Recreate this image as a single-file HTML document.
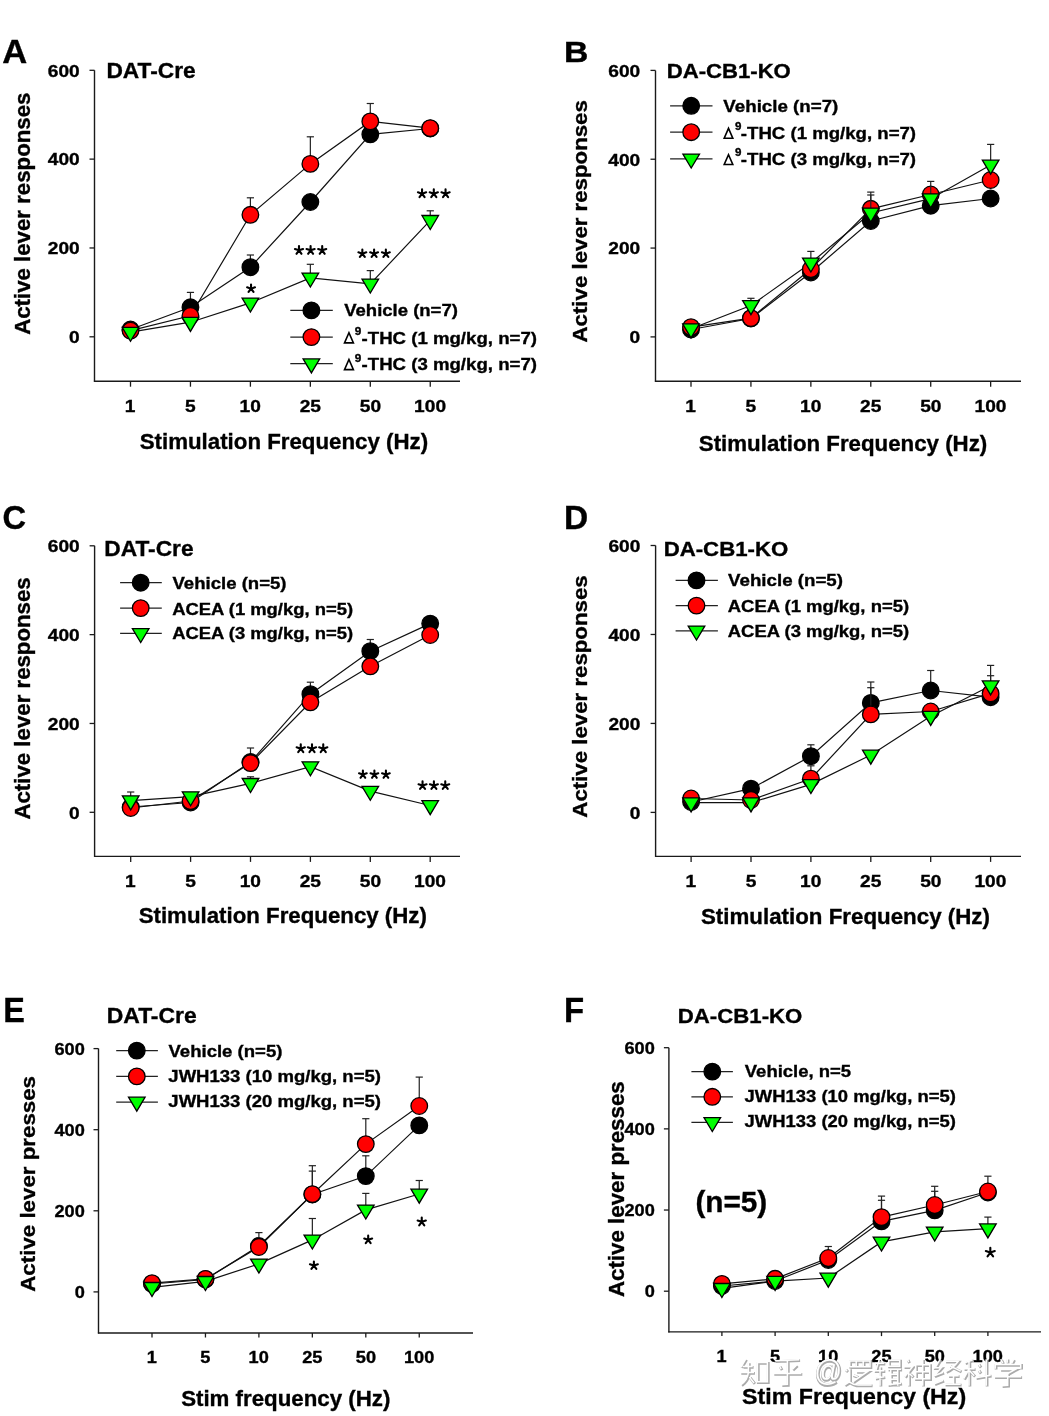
<!DOCTYPE html>
<html><head><meta charset="utf-8"><style>
html,body{margin:0;padding:0;background:#fff;width:1049px;height:1416px;overflow:hidden}
svg{will-change:transform}
text{font-family:"Liberation Sans",sans-serif;stroke:#000;stroke-width:0.35px}
</style></head><body>
<svg width="1049" height="1416" viewBox="0 0 1049 1416" style="display:block" font-family="Liberation Sans, sans-serif">
<rect width="1049" height="1416" fill="#fff"/>
<line x1="94.50" y1="70.30" x2="94.50" y2="381.80" stroke="#1a1a1a" stroke-width="1.4"/>
<line x1="93.90" y1="381.20" x2="460.00" y2="381.20" stroke="#1a1a1a" stroke-width="1.4"/>
<line x1="89.50" y1="336.80" x2="94.50" y2="336.80" stroke="#1a1a1a" stroke-width="1.3"/>
<text transform="translate(69.04,343.10) scale(1.1000,1)" font-size="17.40" font-weight="bold" fill="#000">0</text>
<line x1="89.50" y1="247.97" x2="94.50" y2="247.97" stroke="#1a1a1a" stroke-width="1.3"/>
<text transform="translate(47.80,254.27) scale(1.1000,1)" font-size="17.40" font-weight="bold" fill="#000">200</text>
<line x1="89.50" y1="159.13" x2="94.50" y2="159.13" stroke="#1a1a1a" stroke-width="1.3"/>
<text transform="translate(47.80,165.43) scale(1.1000,1)" font-size="17.40" font-weight="bold" fill="#000">400</text>
<line x1="89.50" y1="70.30" x2="94.50" y2="70.30" stroke="#1a1a1a" stroke-width="1.3"/>
<text transform="translate(47.80,76.60) scale(1.1000,1)" font-size="17.40" font-weight="bold" fill="#000">600</text>
<line x1="130.50" y1="381.20" x2="130.50" y2="386.70" stroke="#1a1a1a" stroke-width="1.3"/>
<text transform="translate(124.85,412.30) scale(1.1000,1)" font-size="17.40" font-weight="bold" fill="#000">1</text>
<line x1="190.45" y1="381.20" x2="190.45" y2="386.70" stroke="#1a1a1a" stroke-width="1.3"/>
<text transform="translate(185.09,412.30) scale(1.1000,1)" font-size="17.40" font-weight="bold" fill="#000">5</text>
<line x1="250.40" y1="381.20" x2="250.40" y2="386.70" stroke="#1a1a1a" stroke-width="1.3"/>
<text transform="translate(239.59,412.30) scale(1.1000,1)" font-size="17.40" font-weight="bold" fill="#000">10</text>
<line x1="310.35" y1="381.20" x2="310.35" y2="386.70" stroke="#1a1a1a" stroke-width="1.3"/>
<text transform="translate(299.63,412.30) scale(1.1000,1)" font-size="17.40" font-weight="bold" fill="#000">25</text>
<line x1="370.30" y1="381.20" x2="370.30" y2="386.70" stroke="#1a1a1a" stroke-width="1.3"/>
<text transform="translate(359.77,412.30) scale(1.1000,1)" font-size="17.40" font-weight="bold" fill="#000">50</text>
<line x1="430.25" y1="381.20" x2="430.25" y2="386.70" stroke="#1a1a1a" stroke-width="1.3"/>
<text transform="translate(414.12,412.30) scale(1.1000,1)" font-size="17.40" font-weight="bold" fill="#000">100</text>
<text transform="translate(2.23,62.80) scale(1.0184,1)" font-size="34.00" font-weight="bold" fill="#000">A</text>
<text transform="translate(106.42,77.80) scale(1.0020,1)" font-size="22.70" font-weight="bold" fill="#000">DAT-Cre</text>
<text transform="translate(29.50,334.86) rotate(-90) scale(1.0208,1)" font-size="21.80" font-weight="bold" fill="#000">Active lever responses</text>
<text transform="translate(139.73,448.70) scale(0.9952,1)" font-size="22.40" font-weight="bold" fill="#000">Stimulation Frequency (Hz)</text>
<line x1="290.30" y1="310.40" x2="332.80" y2="310.40" stroke="#222" stroke-width="1.25"/>
<circle cx="311.40" cy="310.40" r="8.3" fill="#000000" stroke="#000" stroke-width="1.3"/>
<text transform="translate(344.21,316.10) scale(1.0895,1)" font-size="17.00" font-weight="bold" fill="#000">Vehicle (n=7)</text>
<line x1="290.30" y1="337.10" x2="332.80" y2="337.10" stroke="#222" stroke-width="1.25"/>
<circle cx="311.40" cy="337.10" r="8.3" fill="#ff0000" stroke="#000" stroke-width="1.3"/>
<polygon points="344.50,342.90 353.40,342.90 348.95,332.77" fill="none" stroke="#000" stroke-width="1.6" stroke-linejoin="miter"/>
<text transform="translate(354.79,334.80) scale(1.1410,1)" font-size="10.30" font-weight="bold" fill="#000">9</text>
<text transform="translate(361.55,343.70) scale(1.0958,1)" font-size="17.00" font-weight="bold" fill="#000">-THC (1 mg/kg, n=7)</text>
<line x1="290.30" y1="363.70" x2="332.80" y2="363.70" stroke="#222" stroke-width="1.25"/>
<polygon points="303.10,358.90 319.70,358.90 311.40,372.90" fill="#00ff00" stroke="#000" stroke-width="1.3" stroke-linejoin="miter"/>
<polygon points="344.50,369.60 353.40,369.60 348.95,359.47" fill="none" stroke="#000" stroke-width="1.6" stroke-linejoin="miter"/>
<text transform="translate(354.79,361.50) scale(1.1410,1)" font-size="10.30" font-weight="bold" fill="#000">9</text>
<text transform="translate(361.55,370.40) scale(1.0958,1)" font-size="17.00" font-weight="bold" fill="#000">-THC (3 mg/kg, n=7)</text>
<polyline fill="none" stroke="#111" stroke-width="1.2" points="130.50,329.50 190.45,307.30 250.40,267.20 310.35,202.00 370.30,134.30 430.25,128.50"/>
<polyline fill="none" stroke="#111" stroke-width="1.2" points="130.50,330.60 190.45,315.80 250.40,214.80 310.35,163.90 370.30,121.40 430.25,128.20"/>
<polyline fill="none" stroke="#111" stroke-width="1.2" points="130.50,332.10 190.45,322.20 250.40,302.90 310.35,277.90 370.30,283.90 430.25,220.30"/>
<line x1="190.45" y1="307.30" x2="190.45" y2="292.40" stroke="#222" stroke-width="1.2"/>
<line x1="186.85" y1="292.40" x2="194.05" y2="292.40" stroke="#222" stroke-width="1.2"/>
<line x1="250.40" y1="267.20" x2="250.40" y2="255.00" stroke="#222" stroke-width="1.2"/>
<line x1="246.80" y1="255.00" x2="254.00" y2="255.00" stroke="#222" stroke-width="1.2"/>
<circle cx="130.50" cy="329.50" r="8.3" fill="#000000" stroke="#000" stroke-width="1.3"/>
<circle cx="190.45" cy="307.30" r="8.3" fill="#000000" stroke="#000" stroke-width="1.3"/>
<circle cx="250.40" cy="267.20" r="8.3" fill="#000000" stroke="#000" stroke-width="1.3"/>
<circle cx="310.35" cy="202.00" r="8.3" fill="#000000" stroke="#000" stroke-width="1.3"/>
<circle cx="370.30" cy="134.30" r="8.3" fill="#000000" stroke="#000" stroke-width="1.3"/>
<circle cx="430.25" cy="128.50" r="8.3" fill="#000000" stroke="#000" stroke-width="1.3"/>
<line x1="250.40" y1="214.80" x2="250.40" y2="197.80" stroke="#222" stroke-width="1.2"/>
<line x1="246.80" y1="197.80" x2="254.00" y2="197.80" stroke="#222" stroke-width="1.2"/>
<line x1="310.35" y1="163.90" x2="310.35" y2="136.80" stroke="#222" stroke-width="1.2"/>
<line x1="306.75" y1="136.80" x2="313.95" y2="136.80" stroke="#222" stroke-width="1.2"/>
<line x1="370.30" y1="121.40" x2="370.30" y2="103.50" stroke="#222" stroke-width="1.2"/>
<line x1="366.70" y1="103.50" x2="373.90" y2="103.50" stroke="#222" stroke-width="1.2"/>
<circle cx="130.50" cy="330.60" r="8.3" fill="#ff0000" stroke="#000" stroke-width="1.3"/>
<circle cx="190.45" cy="315.80" r="8.3" fill="#ff0000" stroke="#000" stroke-width="1.3"/>
<circle cx="250.40" cy="214.80" r="8.3" fill="#ff0000" stroke="#000" stroke-width="1.3"/>
<circle cx="310.35" cy="163.90" r="8.3" fill="#ff0000" stroke="#000" stroke-width="1.3"/>
<circle cx="370.30" cy="121.40" r="8.3" fill="#ff0000" stroke="#000" stroke-width="1.3"/>
<circle cx="430.25" cy="128.20" r="8.3" fill="#ff0000" stroke="#000" stroke-width="1.3"/>
<line x1="310.35" y1="277.90" x2="310.35" y2="264.30" stroke="#222" stroke-width="1.2"/>
<line x1="306.75" y1="264.30" x2="313.95" y2="264.30" stroke="#222" stroke-width="1.2"/>
<line x1="370.30" y1="283.90" x2="370.30" y2="270.60" stroke="#222" stroke-width="1.2"/>
<line x1="366.70" y1="270.60" x2="373.90" y2="270.60" stroke="#222" stroke-width="1.2"/>
<line x1="430.25" y1="220.30" x2="430.25" y2="210.80" stroke="#222" stroke-width="1.2"/>
<line x1="426.65" y1="210.80" x2="433.85" y2="210.80" stroke="#222" stroke-width="1.2"/>
<polygon points="122.20,327.30 138.80,327.30 130.50,341.30" fill="#00ff00" stroke="#000" stroke-width="1.3" stroke-linejoin="miter"/>
<polygon points="182.15,317.40 198.75,317.40 190.45,331.40" fill="#00ff00" stroke="#000" stroke-width="1.3" stroke-linejoin="miter"/>
<polygon points="242.10,298.10 258.70,298.10 250.40,312.10" fill="#00ff00" stroke="#000" stroke-width="1.3" stroke-linejoin="miter"/>
<polygon points="302.05,273.10 318.65,273.10 310.35,287.10" fill="#00ff00" stroke="#000" stroke-width="1.3" stroke-linejoin="miter"/>
<polygon points="362.00,279.10 378.60,279.10 370.30,293.10" fill="#00ff00" stroke="#000" stroke-width="1.3" stroke-linejoin="miter"/>
<polygon points="421.95,215.50 438.55,215.50 430.25,229.50" fill="#00ff00" stroke="#000" stroke-width="1.3" stroke-linejoin="miter"/>
<path d="M251.04,288.64 L251.04,284.53 M251.04,288.64 L254.95,287.37 M251.04,288.64 L247.13,287.37 M251.04,288.64 L248.62,291.97 M251.04,288.64 L253.46,291.97 " stroke="#000" stroke-width="2.1" stroke-linecap="round" fill="none"/>
<path d="M299.00,250.31 L299.00,246.03 M299.00,250.31 L303.07,248.99 M299.00,250.31 L294.93,248.99 M299.00,250.31 L296.48,253.77 M299.00,250.31 L301.51,253.77 " stroke="#000" stroke-width="2.1" stroke-linecap="round" fill="none"/>
<path d="M310.60,250.31 L310.60,246.03 M310.60,250.31 L314.67,248.99 M310.60,250.31 L306.53,248.99 M310.60,250.31 L308.09,253.77 M310.60,250.31 L313.11,253.77 " stroke="#000" stroke-width="2.1" stroke-linecap="round" fill="none"/>
<path d="M322.20,250.31 L322.20,246.03 M322.20,250.31 L326.27,248.99 M322.20,250.31 L318.13,248.99 M322.20,250.31 L319.69,253.77 M322.20,250.31 L324.72,253.77 " stroke="#000" stroke-width="2.1" stroke-linecap="round" fill="none"/>
<path d="M362.34,253.64 L362.34,249.53 M362.34,253.64 L366.25,252.37 M362.34,253.64 L358.43,252.37 M362.34,253.64 L359.92,256.97 M362.34,253.64 L364.76,256.97 " stroke="#000" stroke-width="2.1" stroke-linecap="round" fill="none"/>
<path d="M374.10,253.64 L374.10,249.53 M374.10,253.64 L378.01,252.37 M374.10,253.64 L370.19,252.37 M374.10,253.64 L371.68,256.97 M374.10,253.64 L376.52,256.97 " stroke="#000" stroke-width="2.1" stroke-linecap="round" fill="none"/>
<path d="M385.86,253.64 L385.86,249.53 M385.86,253.64 L389.77,252.37 M385.86,253.64 L381.95,252.37 M385.86,253.64 L383.44,256.97 M385.86,253.64 L388.28,256.97 " stroke="#000" stroke-width="2.1" stroke-linecap="round" fill="none"/>
<path d="M422.05,193.66 L422.05,189.33 M422.05,193.66 L426.17,192.32 M422.05,193.66 L417.93,192.32 M422.05,193.66 L419.50,197.17 M422.05,193.66 L424.60,197.17 " stroke="#000" stroke-width="2.1" stroke-linecap="round" fill="none"/>
<path d="M433.80,193.66 L433.80,189.33 M433.80,193.66 L437.92,192.32 M433.80,193.66 L429.68,192.32 M433.80,193.66 L431.25,197.17 M433.80,193.66 L436.35,197.17 " stroke="#000" stroke-width="2.1" stroke-linecap="round" fill="none"/>
<path d="M445.55,193.66 L445.55,189.33 M445.55,193.66 L449.67,192.32 M445.55,193.66 L441.43,192.32 M445.55,193.66 L443.00,197.17 M445.55,193.66 L448.10,197.17 " stroke="#000" stroke-width="2.1" stroke-linecap="round" fill="none"/>
<line x1="655.50" y1="70.40" x2="655.50" y2="381.80" stroke="#1a1a1a" stroke-width="1.4"/>
<line x1="654.90" y1="381.20" x2="1021.00" y2="381.20" stroke="#1a1a1a" stroke-width="1.4"/>
<line x1="650.50" y1="336.90" x2="655.50" y2="336.90" stroke="#1a1a1a" stroke-width="1.3"/>
<text transform="translate(629.54,343.20) scale(1.1000,1)" font-size="17.40" font-weight="bold" fill="#000">0</text>
<line x1="650.50" y1="248.07" x2="655.50" y2="248.07" stroke="#1a1a1a" stroke-width="1.3"/>
<text transform="translate(608.30,254.37) scale(1.1000,1)" font-size="17.40" font-weight="bold" fill="#000">200</text>
<line x1="650.50" y1="159.23" x2="655.50" y2="159.23" stroke="#1a1a1a" stroke-width="1.3"/>
<text transform="translate(608.30,165.53) scale(1.1000,1)" font-size="17.40" font-weight="bold" fill="#000">400</text>
<line x1="650.50" y1="70.40" x2="655.50" y2="70.40" stroke="#1a1a1a" stroke-width="1.3"/>
<text transform="translate(608.30,76.70) scale(1.1000,1)" font-size="17.40" font-weight="bold" fill="#000">600</text>
<line x1="691.00" y1="381.20" x2="691.00" y2="386.70" stroke="#1a1a1a" stroke-width="1.3"/>
<text transform="translate(685.35,412.00) scale(1.1000,1)" font-size="17.40" font-weight="bold" fill="#000">1</text>
<line x1="750.93" y1="381.20" x2="750.93" y2="386.70" stroke="#1a1a1a" stroke-width="1.3"/>
<text transform="translate(745.57,412.00) scale(1.1000,1)" font-size="17.40" font-weight="bold" fill="#000">5</text>
<line x1="810.86" y1="381.20" x2="810.86" y2="386.70" stroke="#1a1a1a" stroke-width="1.3"/>
<text transform="translate(800.05,412.00) scale(1.1000,1)" font-size="17.40" font-weight="bold" fill="#000">10</text>
<line x1="870.79" y1="381.20" x2="870.79" y2="386.70" stroke="#1a1a1a" stroke-width="1.3"/>
<text transform="translate(860.07,412.00) scale(1.1000,1)" font-size="17.40" font-weight="bold" fill="#000">25</text>
<line x1="930.72" y1="381.20" x2="930.72" y2="386.70" stroke="#1a1a1a" stroke-width="1.3"/>
<text transform="translate(920.19,412.00) scale(1.1000,1)" font-size="17.40" font-weight="bold" fill="#000">50</text>
<line x1="990.65" y1="381.20" x2="990.65" y2="386.70" stroke="#1a1a1a" stroke-width="1.3"/>
<text transform="translate(974.52,412.00) scale(1.1000,1)" font-size="17.40" font-weight="bold" fill="#000">100</text>
<text transform="translate(563.90,61.70) scale(1.1257,1)" font-size="30.00" font-weight="bold" fill="#000">B</text>
<text transform="translate(666.76,77.70) scale(1.0899,1)" font-size="20.30" font-weight="bold" fill="#000">DA-CB1-KO</text>
<text transform="translate(586.70,342.46) rotate(-90) scale(1.0592,1)" font-size="21.00" font-weight="bold" fill="#000">Active lever responses</text>
<text transform="translate(698.83,450.50) scale(0.9955,1)" font-size="22.40" font-weight="bold" fill="#000">Stimulation Frequency (Hz)</text>
<line x1="670.10" y1="105.80" x2="712.50" y2="105.80" stroke="#222" stroke-width="1.25"/>
<circle cx="691.20" cy="105.80" r="8.3" fill="#000000" stroke="#000" stroke-width="1.3"/>
<text transform="translate(723.31,112.10) scale(1.1296,1)" font-size="16.60" font-weight="bold" fill="#000">Vehicle (n=7)</text>
<line x1="670.10" y1="132.20" x2="712.50" y2="132.20" stroke="#222" stroke-width="1.25"/>
<circle cx="691.20" cy="132.20" r="8.3" fill="#ff0000" stroke="#000" stroke-width="1.3"/>
<polygon points="724.20,138.20 732.80,138.20 728.50,128.35" fill="none" stroke="#000" stroke-width="1.6" stroke-linejoin="miter"/>
<text transform="translate(735.00,130.10) scale(1.1210,1)" font-size="10.30" font-weight="bold" fill="#000">9</text>
<text transform="translate(740.86,139.00) scale(1.1215,1)" font-size="16.60" font-weight="bold" fill="#000">-THC (1 mg/kg, n=7)</text>
<line x1="670.10" y1="158.90" x2="712.50" y2="158.90" stroke="#222" stroke-width="1.25"/>
<polygon points="682.90,154.10 699.50,154.10 691.20,168.10" fill="#00ff00" stroke="#000" stroke-width="1.3" stroke-linejoin="miter"/>
<polygon points="724.20,164.50 732.80,164.50 728.50,154.65" fill="none" stroke="#000" stroke-width="1.6" stroke-linejoin="miter"/>
<text transform="translate(735.00,156.40) scale(1.1210,1)" font-size="10.30" font-weight="bold" fill="#000">9</text>
<text transform="translate(740.86,165.30) scale(1.1215,1)" font-size="16.60" font-weight="bold" fill="#000">-THC (3 mg/kg, n=7)</text>
<polyline fill="none" stroke="#111" stroke-width="1.2" points="691.00,329.50 750.93,318.50 810.86,272.50 870.79,221.00 930.72,205.70 990.65,198.50"/>
<polyline fill="none" stroke="#111" stroke-width="1.2" points="691.00,327.20 750.93,318.10 810.86,269.00 870.79,208.80 930.72,194.50 990.65,180.00"/>
<polyline fill="none" stroke="#111" stroke-width="1.2" points="691.00,328.70 750.93,305.50 810.86,262.90 870.79,213.00 930.72,198.70 990.65,165.00"/>
<circle cx="691.00" cy="329.50" r="8.3" fill="#000000" stroke="#000" stroke-width="1.3"/>
<circle cx="750.93" cy="318.50" r="8.3" fill="#000000" stroke="#000" stroke-width="1.3"/>
<circle cx="810.86" cy="272.50" r="8.3" fill="#000000" stroke="#000" stroke-width="1.3"/>
<circle cx="870.79" cy="221.00" r="8.3" fill="#000000" stroke="#000" stroke-width="1.3"/>
<circle cx="930.72" cy="205.70" r="8.3" fill="#000000" stroke="#000" stroke-width="1.3"/>
<circle cx="990.65" cy="198.50" r="8.3" fill="#000000" stroke="#000" stroke-width="1.3"/>
<line x1="870.79" y1="208.80" x2="870.79" y2="195.00" stroke="#222" stroke-width="1.2"/>
<line x1="867.19" y1="195.00" x2="874.39" y2="195.00" stroke="#222" stroke-width="1.2"/>
<circle cx="691.00" cy="327.20" r="8.3" fill="#ff0000" stroke="#000" stroke-width="1.3"/>
<circle cx="750.93" cy="318.10" r="8.3" fill="#ff0000" stroke="#000" stroke-width="1.3"/>
<circle cx="810.86" cy="269.00" r="8.3" fill="#ff0000" stroke="#000" stroke-width="1.3"/>
<circle cx="870.79" cy="208.80" r="8.3" fill="#ff0000" stroke="#000" stroke-width="1.3"/>
<circle cx="930.72" cy="194.50" r="8.3" fill="#ff0000" stroke="#000" stroke-width="1.3"/>
<circle cx="990.65" cy="180.00" r="8.3" fill="#ff0000" stroke="#000" stroke-width="1.3"/>
<line x1="750.93" y1="305.50" x2="750.93" y2="298.30" stroke="#222" stroke-width="1.2"/>
<line x1="747.33" y1="298.30" x2="754.53" y2="298.30" stroke="#222" stroke-width="1.2"/>
<line x1="810.86" y1="262.90" x2="810.86" y2="251.40" stroke="#222" stroke-width="1.2"/>
<line x1="807.26" y1="251.40" x2="814.46" y2="251.40" stroke="#222" stroke-width="1.2"/>
<line x1="870.79" y1="213.00" x2="870.79" y2="192.10" stroke="#222" stroke-width="1.2"/>
<line x1="867.19" y1="192.10" x2="874.39" y2="192.10" stroke="#222" stroke-width="1.2"/>
<line x1="930.72" y1="198.70" x2="930.72" y2="181.40" stroke="#222" stroke-width="1.2"/>
<line x1="927.12" y1="181.40" x2="934.32" y2="181.40" stroke="#222" stroke-width="1.2"/>
<line x1="990.65" y1="165.00" x2="990.65" y2="144.40" stroke="#222" stroke-width="1.2"/>
<line x1="987.05" y1="144.40" x2="994.25" y2="144.40" stroke="#222" stroke-width="1.2"/>
<polygon points="682.70,323.90 699.30,323.90 691.00,337.90" fill="#00ff00" stroke="#000" stroke-width="1.3" stroke-linejoin="miter"/>
<polygon points="742.63,300.70 759.23,300.70 750.93,314.70" fill="#00ff00" stroke="#000" stroke-width="1.3" stroke-linejoin="miter"/>
<polygon points="802.56,258.10 819.16,258.10 810.86,272.10" fill="#00ff00" stroke="#000" stroke-width="1.3" stroke-linejoin="miter"/>
<polygon points="862.49,208.20 879.09,208.20 870.79,222.20" fill="#00ff00" stroke="#000" stroke-width="1.3" stroke-linejoin="miter"/>
<polygon points="922.42,193.90 939.02,193.90 930.72,207.90" fill="#00ff00" stroke="#000" stroke-width="1.3" stroke-linejoin="miter"/>
<polygon points="982.35,160.20 998.95,160.20 990.65,174.20" fill="#00ff00" stroke="#000" stroke-width="1.3" stroke-linejoin="miter"/>
<line x1="94.60" y1="545.80" x2="94.60" y2="857.00" stroke="#1a1a1a" stroke-width="1.4"/>
<line x1="94.00" y1="856.40" x2="460.00" y2="856.40" stroke="#1a1a1a" stroke-width="1.4"/>
<line x1="89.60" y1="812.30" x2="94.60" y2="812.30" stroke="#1a1a1a" stroke-width="1.3"/>
<text transform="translate(69.04,818.60) scale(1.1000,1)" font-size="17.40" font-weight="bold" fill="#000">0</text>
<line x1="89.60" y1="723.47" x2="94.60" y2="723.47" stroke="#1a1a1a" stroke-width="1.3"/>
<text transform="translate(47.80,729.77) scale(1.1000,1)" font-size="17.40" font-weight="bold" fill="#000">200</text>
<line x1="89.60" y1="634.63" x2="94.60" y2="634.63" stroke="#1a1a1a" stroke-width="1.3"/>
<text transform="translate(47.80,640.93) scale(1.1000,1)" font-size="17.40" font-weight="bold" fill="#000">400</text>
<line x1="89.60" y1="545.80" x2="94.60" y2="545.80" stroke="#1a1a1a" stroke-width="1.3"/>
<text transform="translate(47.80,552.10) scale(1.1000,1)" font-size="17.40" font-weight="bold" fill="#000">600</text>
<line x1="130.70" y1="856.40" x2="130.70" y2="861.90" stroke="#1a1a1a" stroke-width="1.3"/>
<text transform="translate(125.05,887.30) scale(1.1000,1)" font-size="17.40" font-weight="bold" fill="#000">1</text>
<line x1="190.60" y1="856.40" x2="190.60" y2="861.90" stroke="#1a1a1a" stroke-width="1.3"/>
<text transform="translate(185.24,887.30) scale(1.1000,1)" font-size="17.40" font-weight="bold" fill="#000">5</text>
<line x1="250.50" y1="856.40" x2="250.50" y2="861.90" stroke="#1a1a1a" stroke-width="1.3"/>
<text transform="translate(239.69,887.30) scale(1.1000,1)" font-size="17.40" font-weight="bold" fill="#000">10</text>
<line x1="310.40" y1="856.40" x2="310.40" y2="861.90" stroke="#1a1a1a" stroke-width="1.3"/>
<text transform="translate(299.68,887.30) scale(1.1000,1)" font-size="17.40" font-weight="bold" fill="#000">25</text>
<line x1="370.30" y1="856.40" x2="370.30" y2="861.90" stroke="#1a1a1a" stroke-width="1.3"/>
<text transform="translate(359.77,887.30) scale(1.1000,1)" font-size="17.40" font-weight="bold" fill="#000">50</text>
<line x1="430.20" y1="856.40" x2="430.20" y2="861.90" stroke="#1a1a1a" stroke-width="1.3"/>
<text transform="translate(414.07,887.30) scale(1.1000,1)" font-size="17.40" font-weight="bold" fill="#000">100</text>
<text transform="translate(2.49,529.30) scale(0.9901,1)" font-size="33.00" font-weight="bold" fill="#000">C</text>
<text transform="translate(104.32,555.70) scale(1.0154,1)" font-size="22.40" font-weight="bold" fill="#000">DAT-Cre</text>
<text transform="translate(29.50,819.56) rotate(-90) scale(1.0204,1)" font-size="21.80" font-weight="bold" fill="#000">Active lever responses</text>
<text transform="translate(138.63,922.70) scale(0.9945,1)" font-size="22.40" font-weight="bold" fill="#000">Stimulation Frequency (Hz)</text>
<line x1="120.10" y1="582.70" x2="161.80" y2="582.70" stroke="#222" stroke-width="1.25"/>
<circle cx="140.70" cy="582.70" r="8.3" fill="#000000" stroke="#000" stroke-width="1.3"/>
<text transform="translate(172.51,588.80) scale(1.1064,1)" font-size="16.80" font-weight="bold" fill="#000">Vehicle (n=5)</text>
<line x1="120.10" y1="608.10" x2="161.80" y2="608.10" stroke="#222" stroke-width="1.25"/>
<circle cx="140.70" cy="608.10" r="8.3" fill="#ff0000" stroke="#000" stroke-width="1.3"/>
<text transform="translate(172.14,614.60) scale(1.0965,1)" font-size="16.80" font-weight="bold" fill="#000">ACEA (1 mg/kg, n=5)</text>
<line x1="120.10" y1="633.40" x2="161.80" y2="633.40" stroke="#222" stroke-width="1.25"/>
<polygon points="132.40,628.60 149.00,628.60 140.70,642.60" fill="#00ff00" stroke="#000" stroke-width="1.3" stroke-linejoin="miter"/>
<text transform="translate(172.14,639.30) scale(1.0965,1)" font-size="16.80" font-weight="bold" fill="#000">ACEA (3 mg/kg, n=5)</text>
<polyline fill="none" stroke="#111" stroke-width="1.2" points="130.70,807.00 190.60,802.50 250.50,762.00 310.40,694.20 370.30,651.20 430.20,623.60"/>
<polyline fill="none" stroke="#111" stroke-width="1.2" points="130.70,808.00 190.60,801.00 250.50,763.10 310.40,702.30 370.30,666.30 430.20,635.00"/>
<polyline fill="none" stroke="#111" stroke-width="1.2" points="130.70,800.70 190.60,796.60 250.50,783.30 310.40,766.60 370.30,791.10 430.20,805.50"/>
<line x1="250.50" y1="762.00" x2="250.50" y2="748.00" stroke="#222" stroke-width="1.2"/>
<line x1="246.90" y1="748.00" x2="254.10" y2="748.00" stroke="#222" stroke-width="1.2"/>
<line x1="310.40" y1="694.20" x2="310.40" y2="682.20" stroke="#222" stroke-width="1.2"/>
<line x1="306.80" y1="682.20" x2="314.00" y2="682.20" stroke="#222" stroke-width="1.2"/>
<line x1="370.30" y1="651.20" x2="370.30" y2="639.50" stroke="#222" stroke-width="1.2"/>
<line x1="366.70" y1="639.50" x2="373.90" y2="639.50" stroke="#222" stroke-width="1.2"/>
<circle cx="130.70" cy="807.00" r="8.3" fill="#000000" stroke="#000" stroke-width="1.3"/>
<circle cx="190.60" cy="802.50" r="8.3" fill="#000000" stroke="#000" stroke-width="1.3"/>
<circle cx="250.50" cy="762.00" r="8.3" fill="#000000" stroke="#000" stroke-width="1.3"/>
<circle cx="310.40" cy="694.20" r="8.3" fill="#000000" stroke="#000" stroke-width="1.3"/>
<circle cx="370.30" cy="651.20" r="8.3" fill="#000000" stroke="#000" stroke-width="1.3"/>
<circle cx="430.20" cy="623.60" r="8.3" fill="#000000" stroke="#000" stroke-width="1.3"/>
<circle cx="130.70" cy="808.00" r="8.3" fill="#ff0000" stroke="#000" stroke-width="1.3"/>
<circle cx="190.60" cy="801.00" r="8.3" fill="#ff0000" stroke="#000" stroke-width="1.3"/>
<circle cx="250.50" cy="763.10" r="8.3" fill="#ff0000" stroke="#000" stroke-width="1.3"/>
<circle cx="310.40" cy="702.30" r="8.3" fill="#ff0000" stroke="#000" stroke-width="1.3"/>
<circle cx="370.30" cy="666.30" r="8.3" fill="#ff0000" stroke="#000" stroke-width="1.3"/>
<circle cx="430.20" cy="635.00" r="8.3" fill="#ff0000" stroke="#000" stroke-width="1.3"/>
<line x1="130.70" y1="800.70" x2="130.70" y2="792.00" stroke="#222" stroke-width="1.2"/>
<line x1="127.10" y1="792.00" x2="134.30" y2="792.00" stroke="#222" stroke-width="1.2"/>
<line x1="250.50" y1="783.30" x2="250.50" y2="776.80" stroke="#222" stroke-width="1.2"/>
<line x1="246.90" y1="776.80" x2="254.10" y2="776.80" stroke="#222" stroke-width="1.2"/>
<polygon points="122.40,795.90 139.00,795.90 130.70,809.90" fill="#00ff00" stroke="#000" stroke-width="1.3" stroke-linejoin="miter"/>
<polygon points="182.30,791.80 198.90,791.80 190.60,805.80" fill="#00ff00" stroke="#000" stroke-width="1.3" stroke-linejoin="miter"/>
<polygon points="242.20,778.50 258.80,778.50 250.50,792.50" fill="#00ff00" stroke="#000" stroke-width="1.3" stroke-linejoin="miter"/>
<polygon points="302.10,761.80 318.70,761.80 310.40,775.80" fill="#00ff00" stroke="#000" stroke-width="1.3" stroke-linejoin="miter"/>
<polygon points="362.00,786.30 378.60,786.30 370.30,800.30" fill="#00ff00" stroke="#000" stroke-width="1.3" stroke-linejoin="miter"/>
<polygon points="421.90,800.70 438.50,800.70 430.20,814.70" fill="#00ff00" stroke="#000" stroke-width="1.3" stroke-linejoin="miter"/>
<path d="M300.75,748.66 L300.75,744.33 M300.75,748.66 L304.87,747.32 M300.75,748.66 L296.63,747.32 M300.75,748.66 L298.20,752.17 M300.75,748.66 L303.30,752.17 " stroke="#000" stroke-width="2.1" stroke-linecap="round" fill="none"/>
<path d="M312.00,748.66 L312.00,744.33 M312.00,748.66 L316.12,747.32 M312.00,748.66 L307.88,747.32 M312.00,748.66 L309.45,752.17 M312.00,748.66 L314.55,752.17 " stroke="#000" stroke-width="2.1" stroke-linecap="round" fill="none"/>
<path d="M323.25,748.66 L323.25,744.33 M323.25,748.66 L327.37,747.32 M323.25,748.66 L319.13,747.32 M323.25,748.66 L320.70,752.17 M323.25,748.66 L325.80,752.17 " stroke="#000" stroke-width="2.1" stroke-linecap="round" fill="none"/>
<path d="M362.89,774.49 L362.89,770.43 M362.89,774.49 L366.75,773.23 M362.89,774.49 L359.03,773.23 M362.89,774.49 L360.50,777.77 M362.89,774.49 L365.27,777.77 " stroke="#000" stroke-width="2.1" stroke-linecap="round" fill="none"/>
<path d="M374.40,774.49 L374.40,770.43 M374.40,774.49 L378.26,773.23 M374.40,774.49 L370.54,773.23 M374.40,774.49 L372.02,777.77 M374.40,774.49 L376.78,777.77 " stroke="#000" stroke-width="2.1" stroke-linecap="round" fill="none"/>
<path d="M385.91,774.49 L385.91,770.43 M385.91,774.49 L389.77,773.23 M385.91,774.49 L382.05,773.23 M385.91,774.49 L383.53,777.77 M385.91,774.49 L388.30,777.77 " stroke="#000" stroke-width="2.1" stroke-linecap="round" fill="none"/>
<path d="M422.55,785.55 L422.55,781.33 M422.55,785.55 L426.56,784.25 M422.55,785.55 L418.53,784.25 M422.55,785.55 L420.06,788.97 M422.55,785.55 L425.03,788.97 " stroke="#000" stroke-width="2.1" stroke-linecap="round" fill="none"/>
<path d="M433.90,785.55 L433.90,781.33 M433.90,785.55 L437.92,784.25 M433.90,785.55 L429.88,784.25 M433.90,785.55 L431.42,788.97 M433.90,785.55 L436.38,788.97 " stroke="#000" stroke-width="2.1" stroke-linecap="round" fill="none"/>
<path d="M445.25,785.55 L445.25,781.33 M445.25,785.55 L449.27,784.25 M445.25,785.55 L441.24,784.25 M445.25,785.55 L442.77,788.97 M445.25,785.55 L447.74,788.97 " stroke="#000" stroke-width="2.1" stroke-linecap="round" fill="none"/>
<line x1="655.60" y1="545.50" x2="655.60" y2="857.00" stroke="#1a1a1a" stroke-width="1.4"/>
<line x1="655.00" y1="856.40" x2="1021.00" y2="856.40" stroke="#1a1a1a" stroke-width="1.4"/>
<line x1="650.60" y1="812.40" x2="655.60" y2="812.40" stroke="#1a1a1a" stroke-width="1.3"/>
<text transform="translate(629.64,818.70) scale(1.1000,1)" font-size="17.40" font-weight="bold" fill="#000">0</text>
<line x1="650.60" y1="723.43" x2="655.60" y2="723.43" stroke="#1a1a1a" stroke-width="1.3"/>
<text transform="translate(608.40,729.73) scale(1.1000,1)" font-size="17.40" font-weight="bold" fill="#000">200</text>
<line x1="650.60" y1="634.47" x2="655.60" y2="634.47" stroke="#1a1a1a" stroke-width="1.3"/>
<text transform="translate(608.40,640.77) scale(1.1000,1)" font-size="17.40" font-weight="bold" fill="#000">400</text>
<line x1="650.60" y1="545.50" x2="655.60" y2="545.50" stroke="#1a1a1a" stroke-width="1.3"/>
<text transform="translate(608.40,551.80) scale(1.1000,1)" font-size="17.40" font-weight="bold" fill="#000">600</text>
<line x1="691.10" y1="856.40" x2="691.10" y2="861.90" stroke="#1a1a1a" stroke-width="1.3"/>
<text transform="translate(685.45,887.00) scale(1.1000,1)" font-size="17.40" font-weight="bold" fill="#000">1</text>
<line x1="751.00" y1="856.40" x2="751.00" y2="861.90" stroke="#1a1a1a" stroke-width="1.3"/>
<text transform="translate(745.64,887.00) scale(1.1000,1)" font-size="17.40" font-weight="bold" fill="#000">5</text>
<line x1="810.90" y1="856.40" x2="810.90" y2="861.90" stroke="#1a1a1a" stroke-width="1.3"/>
<text transform="translate(800.09,887.00) scale(1.1000,1)" font-size="17.40" font-weight="bold" fill="#000">10</text>
<line x1="870.80" y1="856.40" x2="870.80" y2="861.90" stroke="#1a1a1a" stroke-width="1.3"/>
<text transform="translate(860.08,887.00) scale(1.1000,1)" font-size="17.40" font-weight="bold" fill="#000">25</text>
<line x1="930.70" y1="856.40" x2="930.70" y2="861.90" stroke="#1a1a1a" stroke-width="1.3"/>
<text transform="translate(920.17,887.00) scale(1.1000,1)" font-size="17.40" font-weight="bold" fill="#000">50</text>
<line x1="990.60" y1="856.40" x2="990.60" y2="861.90" stroke="#1a1a1a" stroke-width="1.3"/>
<text transform="translate(974.47,887.00) scale(1.1000,1)" font-size="17.40" font-weight="bold" fill="#000">100</text>
<text transform="translate(563.92,528.70) scale(0.9999,1)" font-size="33.50" font-weight="bold" fill="#000">D</text>
<text transform="translate(663.66,555.70) scale(1.0837,1)" font-size="20.50" font-weight="bold" fill="#000">DA-CB1-KO</text>
<text transform="translate(586.70,817.66) rotate(-90) scale(1.0592,1)" font-size="21.00" font-weight="bold" fill="#000">Active lever responses</text>
<text transform="translate(700.93,923.50) scale(0.9969,1)" font-size="22.40" font-weight="bold" fill="#000">Stimulation Frequency (Hz)</text>
<line x1="675.60" y1="580.40" x2="717.90" y2="580.40" stroke="#222" stroke-width="1.25"/>
<circle cx="696.50" cy="580.40" r="8.3" fill="#000000" stroke="#000" stroke-width="1.3"/>
<text transform="translate(728.11,586.10) scale(1.1142,1)" font-size="16.80" font-weight="bold" fill="#000">Vehicle (n=5)</text>
<line x1="675.60" y1="605.60" x2="717.90" y2="605.60" stroke="#222" stroke-width="1.25"/>
<circle cx="696.50" cy="605.60" r="8.3" fill="#ff0000" stroke="#000" stroke-width="1.3"/>
<text transform="translate(727.74,611.90) scale(1.0996,1)" font-size="16.80" font-weight="bold" fill="#000">ACEA (1 mg/kg, n=5)</text>
<line x1="675.60" y1="630.90" x2="717.90" y2="630.90" stroke="#222" stroke-width="1.25"/>
<polygon points="688.20,626.10 704.80,626.10 696.50,640.10" fill="#00ff00" stroke="#000" stroke-width="1.3" stroke-linejoin="miter"/>
<text transform="translate(727.74,636.80) scale(1.0996,1)" font-size="16.80" font-weight="bold" fill="#000">ACEA (3 mg/kg, n=5)</text>
<polyline fill="none" stroke="#111" stroke-width="1.2" points="691.10,802.00 751.00,788.70 810.90,756.20 870.80,702.90 930.70,690.50 990.60,697.20"/>
<polyline fill="none" stroke="#111" stroke-width="1.2" points="691.10,798.50 751.00,800.00 810.90,778.70 870.80,714.40 930.70,711.50 990.60,693.40"/>
<polyline fill="none" stroke="#111" stroke-width="1.2" points="691.10,802.70 751.00,802.70 810.90,784.40 870.80,755.00 930.70,716.20 990.60,685.70"/>
<line x1="810.90" y1="756.20" x2="810.90" y2="744.80" stroke="#222" stroke-width="1.2"/>
<line x1="807.30" y1="744.80" x2="814.50" y2="744.80" stroke="#222" stroke-width="1.2"/>
<line x1="870.80" y1="702.90" x2="870.80" y2="682.00" stroke="#222" stroke-width="1.2"/>
<line x1="867.20" y1="682.00" x2="874.40" y2="682.00" stroke="#222" stroke-width="1.2"/>
<line x1="930.70" y1="690.50" x2="930.70" y2="670.50" stroke="#222" stroke-width="1.2"/>
<line x1="927.10" y1="670.50" x2="934.30" y2="670.50" stroke="#222" stroke-width="1.2"/>
<circle cx="691.10" cy="802.00" r="8.3" fill="#000000" stroke="#000" stroke-width="1.3"/>
<circle cx="751.00" cy="788.70" r="8.3" fill="#000000" stroke="#000" stroke-width="1.3"/>
<circle cx="810.90" cy="756.20" r="8.3" fill="#000000" stroke="#000" stroke-width="1.3"/>
<circle cx="870.80" cy="702.90" r="8.3" fill="#000000" stroke="#000" stroke-width="1.3"/>
<circle cx="930.70" cy="690.50" r="8.3" fill="#000000" stroke="#000" stroke-width="1.3"/>
<circle cx="990.60" cy="697.20" r="8.3" fill="#000000" stroke="#000" stroke-width="1.3"/>
<line x1="810.90" y1="778.70" x2="810.90" y2="765.80" stroke="#222" stroke-width="1.2"/>
<line x1="807.30" y1="765.80" x2="814.50" y2="765.80" stroke="#222" stroke-width="1.2"/>
<line x1="870.80" y1="714.40" x2="870.80" y2="687.70" stroke="#222" stroke-width="1.2"/>
<line x1="867.20" y1="687.70" x2="874.40" y2="687.70" stroke="#222" stroke-width="1.2"/>
<line x1="930.70" y1="711.50" x2="930.70" y2="704.40" stroke="#222" stroke-width="1.2"/>
<line x1="927.10" y1="704.40" x2="934.30" y2="704.40" stroke="#222" stroke-width="1.2"/>
<line x1="990.60" y1="693.40" x2="990.60" y2="675.70" stroke="#222" stroke-width="1.2"/>
<line x1="987.00" y1="675.70" x2="994.20" y2="675.70" stroke="#222" stroke-width="1.2"/>
<circle cx="691.10" cy="798.50" r="8.3" fill="#ff0000" stroke="#000" stroke-width="1.3"/>
<circle cx="751.00" cy="800.00" r="8.3" fill="#ff0000" stroke="#000" stroke-width="1.3"/>
<circle cx="810.90" cy="778.70" r="8.3" fill="#ff0000" stroke="#000" stroke-width="1.3"/>
<circle cx="870.80" cy="714.40" r="8.3" fill="#ff0000" stroke="#000" stroke-width="1.3"/>
<circle cx="930.70" cy="711.50" r="8.3" fill="#ff0000" stroke="#000" stroke-width="1.3"/>
<circle cx="990.60" cy="693.40" r="8.3" fill="#ff0000" stroke="#000" stroke-width="1.3"/>
<line x1="990.60" y1="685.70" x2="990.60" y2="665.40" stroke="#222" stroke-width="1.2"/>
<line x1="987.00" y1="665.40" x2="994.20" y2="665.40" stroke="#222" stroke-width="1.2"/>
<polygon points="682.80,797.90 699.40,797.90 691.10,811.90" fill="#00ff00" stroke="#000" stroke-width="1.3" stroke-linejoin="miter"/>
<polygon points="742.70,797.90 759.30,797.90 751.00,811.90" fill="#00ff00" stroke="#000" stroke-width="1.3" stroke-linejoin="miter"/>
<polygon points="802.60,779.60 819.20,779.60 810.90,793.60" fill="#00ff00" stroke="#000" stroke-width="1.3" stroke-linejoin="miter"/>
<polygon points="862.50,750.20 879.10,750.20 870.80,764.20" fill="#00ff00" stroke="#000" stroke-width="1.3" stroke-linejoin="miter"/>
<polygon points="922.40,711.40 939.00,711.40 930.70,725.40" fill="#00ff00" stroke="#000" stroke-width="1.3" stroke-linejoin="miter"/>
<polygon points="982.30,680.90 998.90,680.90 990.60,694.90" fill="#00ff00" stroke="#000" stroke-width="1.3" stroke-linejoin="miter"/>
<line x1="98.50" y1="1048.60" x2="98.50" y2="1333.60" stroke="#1a1a1a" stroke-width="1.4"/>
<line x1="97.90" y1="1333.00" x2="473.00" y2="1333.00" stroke="#1a1a1a" stroke-width="1.4"/>
<line x1="93.50" y1="1291.90" x2="98.50" y2="1291.90" stroke="#1a1a1a" stroke-width="1.3"/>
<text transform="translate(74.63,1297.90) scale(1.0700,1)" font-size="17.00" font-weight="bold" fill="#000">0</text>
<line x1="93.50" y1="1210.80" x2="98.50" y2="1210.80" stroke="#1a1a1a" stroke-width="1.3"/>
<text transform="translate(54.44,1216.80) scale(1.0700,1)" font-size="17.00" font-weight="bold" fill="#000">200</text>
<line x1="93.50" y1="1129.70" x2="98.50" y2="1129.70" stroke="#1a1a1a" stroke-width="1.3"/>
<text transform="translate(54.44,1135.70) scale(1.0700,1)" font-size="17.00" font-weight="bold" fill="#000">400</text>
<line x1="93.50" y1="1048.60" x2="98.50" y2="1048.60" stroke="#1a1a1a" stroke-width="1.3"/>
<text transform="translate(54.44,1054.60) scale(1.0700,1)" font-size="17.00" font-weight="bold" fill="#000">600</text>
<line x1="152.00" y1="1333.00" x2="152.00" y2="1337.50" stroke="#1a1a1a" stroke-width="1.3"/>
<text transform="translate(146.63,1362.90) scale(1.0700,1)" font-size="17.00" font-weight="bold" fill="#000">1</text>
<line x1="205.45" y1="1333.00" x2="205.45" y2="1337.50" stroke="#1a1a1a" stroke-width="1.3"/>
<text transform="translate(200.36,1362.90) scale(1.0700,1)" font-size="17.00" font-weight="bold" fill="#000">5</text>
<line x1="258.90" y1="1333.00" x2="258.90" y2="1337.50" stroke="#1a1a1a" stroke-width="1.3"/>
<text transform="translate(248.62,1362.90) scale(1.0700,1)" font-size="17.00" font-weight="bold" fill="#000">10</text>
<line x1="312.35" y1="1333.00" x2="312.35" y2="1337.50" stroke="#1a1a1a" stroke-width="1.3"/>
<text transform="translate(302.16,1362.90) scale(1.0700,1)" font-size="17.00" font-weight="bold" fill="#000">25</text>
<line x1="365.80" y1="1333.00" x2="365.80" y2="1337.50" stroke="#1a1a1a" stroke-width="1.3"/>
<text transform="translate(355.80,1362.90) scale(1.0700,1)" font-size="17.00" font-weight="bold" fill="#000">50</text>
<line x1="419.25" y1="1333.00" x2="419.25" y2="1337.50" stroke="#1a1a1a" stroke-width="1.3"/>
<text transform="translate(403.92,1362.90) scale(1.0700,1)" font-size="17.00" font-weight="bold" fill="#000">100</text>
<text transform="translate(3.19,1022.40) scale(0.9254,1)" font-size="35.00" font-weight="bold" fill="#000">E</text>
<text transform="translate(106.71,1022.50) scale(1.0247,1)" font-size="22.40" font-weight="bold" fill="#000">DAT-Cre</text>
<text transform="translate(34.60,1291.76) rotate(-90) scale(1.0629,1)" font-size="21.00" font-weight="bold" fill="#000">Active lever presses</text>
<text transform="translate(181.13,1405.80) scale(0.9955,1)" font-size="22.40" font-weight="bold" fill="#000">Stim frequency (Hz)</text>
<line x1="116.20" y1="1050.60" x2="157.90" y2="1050.60" stroke="#222" stroke-width="1.25"/>
<circle cx="136.80" cy="1050.60" r="8.3" fill="#000000" stroke="#000" stroke-width="1.3"/>
<text transform="translate(168.51,1057.20) scale(1.0788,1)" font-size="17.20" font-weight="bold" fill="#000">Vehicle (n=5)</text>
<line x1="116.20" y1="1076.40" x2="157.90" y2="1076.40" stroke="#222" stroke-width="1.25"/>
<circle cx="136.80" cy="1076.40" r="8.3" fill="#ff0000" stroke="#000" stroke-width="1.3"/>
<text transform="translate(168.32,1082.30) scale(1.0777,1)" font-size="17.20" font-weight="bold" fill="#000">JWH133 (10 mg/kg, n=5)</text>
<line x1="116.20" y1="1102.00" x2="157.90" y2="1102.00" stroke="#222" stroke-width="1.25"/>
<polygon points="128.50,1097.20 145.10,1097.20 136.80,1111.20" fill="#00ff00" stroke="#000" stroke-width="1.3" stroke-linejoin="miter"/>
<text transform="translate(168.32,1107.20) scale(1.0777,1)" font-size="17.20" font-weight="bold" fill="#000">JWH133 (20 mg/kg, n=5)</text>
<polyline fill="none" stroke="#111" stroke-width="1.2" points="152.00,1284.00 205.45,1279.50 258.90,1246.00 312.35,1194.50 365.80,1176.10 419.25,1125.40"/>
<polyline fill="none" stroke="#111" stroke-width="1.2" points="152.00,1283.20 205.45,1278.90 258.90,1247.00 312.35,1194.20 365.80,1144.10 419.25,1106.00"/>
<polyline fill="none" stroke="#111" stroke-width="1.2" points="152.00,1287.30 205.45,1281.30 258.90,1263.90 312.35,1239.90 365.80,1209.90 419.25,1194.00"/>
<line x1="312.35" y1="1194.50" x2="312.35" y2="1171.10" stroke="#222" stroke-width="1.2"/>
<line x1="308.75" y1="1171.10" x2="315.95" y2="1171.10" stroke="#222" stroke-width="1.2"/>
<line x1="365.80" y1="1176.10" x2="365.80" y2="1155.80" stroke="#222" stroke-width="1.2"/>
<line x1="362.20" y1="1155.80" x2="369.40" y2="1155.80" stroke="#222" stroke-width="1.2"/>
<circle cx="152.00" cy="1284.00" r="8.3" fill="#000000" stroke="#000" stroke-width="1.3"/>
<circle cx="205.45" cy="1279.50" r="8.3" fill="#000000" stroke="#000" stroke-width="1.3"/>
<circle cx="258.90" cy="1246.00" r="8.3" fill="#000000" stroke="#000" stroke-width="1.3"/>
<circle cx="312.35" cy="1194.50" r="8.3" fill="#000000" stroke="#000" stroke-width="1.3"/>
<circle cx="365.80" cy="1176.10" r="8.3" fill="#000000" stroke="#000" stroke-width="1.3"/>
<circle cx="419.25" cy="1125.40" r="8.3" fill="#000000" stroke="#000" stroke-width="1.3"/>
<line x1="258.90" y1="1247.00" x2="258.90" y2="1232.60" stroke="#222" stroke-width="1.2"/>
<line x1="255.30" y1="1232.60" x2="262.50" y2="1232.60" stroke="#222" stroke-width="1.2"/>
<line x1="312.35" y1="1194.20" x2="312.35" y2="1165.70" stroke="#222" stroke-width="1.2"/>
<line x1="308.75" y1="1165.70" x2="315.95" y2="1165.70" stroke="#222" stroke-width="1.2"/>
<line x1="365.80" y1="1144.10" x2="365.80" y2="1118.70" stroke="#222" stroke-width="1.2"/>
<line x1="362.20" y1="1118.70" x2="369.40" y2="1118.70" stroke="#222" stroke-width="1.2"/>
<line x1="419.25" y1="1106.00" x2="419.25" y2="1077.10" stroke="#222" stroke-width="1.2"/>
<line x1="415.65" y1="1077.10" x2="422.85" y2="1077.10" stroke="#222" stroke-width="1.2"/>
<circle cx="152.00" cy="1283.20" r="8.3" fill="#ff0000" stroke="#000" stroke-width="1.3"/>
<circle cx="205.45" cy="1278.90" r="8.3" fill="#ff0000" stroke="#000" stroke-width="1.3"/>
<circle cx="258.90" cy="1247.00" r="8.3" fill="#ff0000" stroke="#000" stroke-width="1.3"/>
<circle cx="312.35" cy="1194.20" r="8.3" fill="#ff0000" stroke="#000" stroke-width="1.3"/>
<circle cx="365.80" cy="1144.10" r="8.3" fill="#ff0000" stroke="#000" stroke-width="1.3"/>
<circle cx="419.25" cy="1106.00" r="8.3" fill="#ff0000" stroke="#000" stroke-width="1.3"/>
<line x1="312.35" y1="1239.90" x2="312.35" y2="1218.50" stroke="#222" stroke-width="1.2"/>
<line x1="308.75" y1="1218.50" x2="315.95" y2="1218.50" stroke="#222" stroke-width="1.2"/>
<line x1="365.80" y1="1209.90" x2="365.80" y2="1193.40" stroke="#222" stroke-width="1.2"/>
<line x1="362.20" y1="1193.40" x2="369.40" y2="1193.40" stroke="#222" stroke-width="1.2"/>
<line x1="419.25" y1="1194.00" x2="419.25" y2="1180.50" stroke="#222" stroke-width="1.2"/>
<line x1="415.65" y1="1180.50" x2="422.85" y2="1180.50" stroke="#222" stroke-width="1.2"/>
<polygon points="143.70,1282.50 160.30,1282.50 152.00,1296.50" fill="#00ff00" stroke="#000" stroke-width="1.3" stroke-linejoin="miter"/>
<polygon points="197.15,1276.50 213.75,1276.50 205.45,1290.50" fill="#00ff00" stroke="#000" stroke-width="1.3" stroke-linejoin="miter"/>
<polygon points="250.60,1259.10 267.20,1259.10 258.90,1273.10" fill="#00ff00" stroke="#000" stroke-width="1.3" stroke-linejoin="miter"/>
<polygon points="304.05,1235.10 320.65,1235.10 312.35,1249.10" fill="#00ff00" stroke="#000" stroke-width="1.3" stroke-linejoin="miter"/>
<polygon points="357.50,1205.10 374.10,1205.10 365.80,1219.10" fill="#00ff00" stroke="#000" stroke-width="1.3" stroke-linejoin="miter"/>
<polygon points="410.95,1189.20 427.55,1189.20 419.25,1203.20" fill="#00ff00" stroke="#000" stroke-width="1.3" stroke-linejoin="miter"/>
<path d="M313.89,1265.60 L313.89,1261.43 M313.89,1265.60 L317.86,1264.31 M313.89,1265.60 L309.93,1264.31 M313.89,1265.60 L311.44,1268.97 M313.89,1265.60 L316.34,1268.97 " stroke="#000" stroke-width="2.1" stroke-linecap="round" fill="none"/>
<path d="M368.19,1239.80 L368.19,1235.63 M368.19,1239.80 L372.16,1238.51 M368.19,1239.80 L364.23,1238.51 M368.19,1239.80 L365.74,1243.17 M368.19,1239.80 L370.64,1243.17 " stroke="#000" stroke-width="2.1" stroke-linecap="round" fill="none"/>
<path d="M421.75,1221.86 L421.75,1217.53 M421.75,1221.86 L425.87,1220.52 M421.75,1221.86 L417.63,1220.52 M421.75,1221.86 L419.20,1225.37 M421.75,1221.86 L424.30,1225.37 " stroke="#000" stroke-width="2.1" stroke-linecap="round" fill="none"/>
<line x1="668.90" y1="1047.70" x2="668.90" y2="1332.50" stroke="#1a1a1a" stroke-width="1.4"/>
<line x1="668.30" y1="1331.90" x2="1041.00" y2="1331.90" stroke="#1a1a1a" stroke-width="1.4"/>
<line x1="663.90" y1="1291.20" x2="668.90" y2="1291.20" stroke="#1a1a1a" stroke-width="1.3"/>
<text transform="translate(644.63,1297.20) scale(1.0700,1)" font-size="17.00" font-weight="bold" fill="#000">0</text>
<line x1="663.90" y1="1210.03" x2="668.90" y2="1210.03" stroke="#1a1a1a" stroke-width="1.3"/>
<text transform="translate(624.44,1216.03) scale(1.0700,1)" font-size="17.00" font-weight="bold" fill="#000">200</text>
<line x1="663.90" y1="1128.87" x2="668.90" y2="1128.87" stroke="#1a1a1a" stroke-width="1.3"/>
<text transform="translate(624.44,1134.87) scale(1.0700,1)" font-size="17.00" font-weight="bold" fill="#000">400</text>
<line x1="663.90" y1="1047.70" x2="668.90" y2="1047.70" stroke="#1a1a1a" stroke-width="1.3"/>
<text transform="translate(624.44,1053.70) scale(1.0700,1)" font-size="17.00" font-weight="bold" fill="#000">600</text>
<line x1="721.90" y1="1331.90" x2="721.90" y2="1336.10" stroke="#1a1a1a" stroke-width="1.3"/>
<text transform="translate(716.53,1361.50) scale(1.0700,1)" font-size="17.00" font-weight="bold" fill="#000">1</text>
<line x1="775.10" y1="1331.90" x2="775.10" y2="1336.10" stroke="#1a1a1a" stroke-width="1.3"/>
<text transform="translate(770.01,1361.50) scale(1.0700,1)" font-size="17.00" font-weight="bold" fill="#000">5</text>
<line x1="828.30" y1="1331.90" x2="828.30" y2="1336.10" stroke="#1a1a1a" stroke-width="1.3"/>
<text transform="translate(818.02,1361.50) scale(1.0700,1)" font-size="17.00" font-weight="bold" fill="#000">10</text>
<line x1="881.50" y1="1331.90" x2="881.50" y2="1336.10" stroke="#1a1a1a" stroke-width="1.3"/>
<text transform="translate(871.31,1361.50) scale(1.0700,1)" font-size="17.00" font-weight="bold" fill="#000">25</text>
<line x1="934.70" y1="1331.90" x2="934.70" y2="1336.10" stroke="#1a1a1a" stroke-width="1.3"/>
<text transform="translate(924.70,1361.50) scale(1.0700,1)" font-size="17.00" font-weight="bold" fill="#000">50</text>
<line x1="987.90" y1="1331.90" x2="987.90" y2="1336.10" stroke="#1a1a1a" stroke-width="1.3"/>
<text transform="translate(972.57,1361.50) scale(1.0700,1)" font-size="17.00" font-weight="bold" fill="#000">100</text>
<text transform="translate(563.96,1021.70) scale(0.9412,1)" font-size="35.00" font-weight="bold" fill="#000">F</text>
<text transform="translate(677.76,1022.90) scale(1.0732,1)" font-size="20.70" font-weight="bold" fill="#000">DA-CB1-KO</text>
<text transform="translate(623.50,1297.06) rotate(-90) scale(1.0239,1)" font-size="21.80" font-weight="bold" fill="#000">Active lever presses</text>
<text transform="translate(742.10,1403.60) scale(1.0353,1)" font-size="22.40" font-weight="bold" fill="#000">Stim Frequency (Hz)</text>
<line x1="691.40" y1="1071.60" x2="732.90" y2="1071.60" stroke="#222" stroke-width="1.25"/>
<circle cx="712.30" cy="1071.60" r="8.3" fill="#000000" stroke="#000" stroke-width="1.3"/>
<text transform="translate(744.81,1076.60) scale(1.0630,1)" font-size="17.40" font-weight="bold" fill="#000">Vehicle, n=5</text>
<line x1="691.40" y1="1096.80" x2="732.90" y2="1096.80" stroke="#222" stroke-width="1.25"/>
<circle cx="712.30" cy="1096.80" r="8.3" fill="#ff0000" stroke="#000" stroke-width="1.3"/>
<text transform="translate(744.62,1102.10) scale(1.0598,1)" font-size="17.40" font-weight="bold" fill="#000">JWH133 (10 mg/kg, n=5)</text>
<line x1="691.40" y1="1122.40" x2="732.90" y2="1122.40" stroke="#222" stroke-width="1.25"/>
<polygon points="704.00,1117.60 720.60,1117.60 712.30,1131.60" fill="#00ff00" stroke="#000" stroke-width="1.3" stroke-linejoin="miter"/>
<text transform="translate(744.62,1127.30) scale(1.0598,1)" font-size="17.40" font-weight="bold" fill="#000">JWH133 (20 mg/kg, n=5)</text>
<polyline fill="none" stroke="#111" stroke-width="1.2" points="721.90,1286.00 775.10,1281.00 828.30,1260.00 881.50,1221.30 934.70,1210.40 987.90,1192.50"/>
<polyline fill="none" stroke="#111" stroke-width="1.2" points="721.90,1283.90 775.10,1278.80 828.30,1258.00 881.50,1217.10 934.70,1205.00 987.90,1191.50"/>
<polyline fill="none" stroke="#111" stroke-width="1.2" points="721.90,1288.30 775.10,1281.20 828.30,1278.00 881.50,1241.90 934.70,1231.90 987.90,1228.70"/>
<line x1="881.50" y1="1221.30" x2="881.50" y2="1200.30" stroke="#222" stroke-width="1.2"/>
<line x1="877.90" y1="1200.30" x2="885.10" y2="1200.30" stroke="#222" stroke-width="1.2"/>
<line x1="934.70" y1="1210.40" x2="934.70" y2="1191.30" stroke="#222" stroke-width="1.2"/>
<line x1="931.10" y1="1191.30" x2="938.30" y2="1191.30" stroke="#222" stroke-width="1.2"/>
<circle cx="721.90" cy="1286.00" r="8.3" fill="#000000" stroke="#000" stroke-width="1.3"/>
<circle cx="775.10" cy="1281.00" r="8.3" fill="#000000" stroke="#000" stroke-width="1.3"/>
<circle cx="828.30" cy="1260.00" r="8.3" fill="#000000" stroke="#000" stroke-width="1.3"/>
<circle cx="881.50" cy="1221.30" r="8.3" fill="#000000" stroke="#000" stroke-width="1.3"/>
<circle cx="934.70" cy="1210.40" r="8.3" fill="#000000" stroke="#000" stroke-width="1.3"/>
<circle cx="987.90" cy="1192.50" r="8.3" fill="#000000" stroke="#000" stroke-width="1.3"/>
<line x1="828.30" y1="1258.00" x2="828.30" y2="1246.50" stroke="#222" stroke-width="1.2"/>
<line x1="824.70" y1="1246.50" x2="831.90" y2="1246.50" stroke="#222" stroke-width="1.2"/>
<line x1="881.50" y1="1217.10" x2="881.50" y2="1196.10" stroke="#222" stroke-width="1.2"/>
<line x1="877.90" y1="1196.10" x2="885.10" y2="1196.10" stroke="#222" stroke-width="1.2"/>
<line x1="934.70" y1="1205.00" x2="934.70" y2="1186.30" stroke="#222" stroke-width="1.2"/>
<line x1="931.10" y1="1186.30" x2="938.30" y2="1186.30" stroke="#222" stroke-width="1.2"/>
<line x1="987.90" y1="1191.50" x2="987.90" y2="1176.20" stroke="#222" stroke-width="1.2"/>
<line x1="984.30" y1="1176.20" x2="991.50" y2="1176.20" stroke="#222" stroke-width="1.2"/>
<circle cx="721.90" cy="1283.90" r="8.3" fill="#ff0000" stroke="#000" stroke-width="1.3"/>
<circle cx="775.10" cy="1278.80" r="8.3" fill="#ff0000" stroke="#000" stroke-width="1.3"/>
<circle cx="828.30" cy="1258.00" r="8.3" fill="#ff0000" stroke="#000" stroke-width="1.3"/>
<circle cx="881.50" cy="1217.10" r="8.3" fill="#ff0000" stroke="#000" stroke-width="1.3"/>
<circle cx="934.70" cy="1205.00" r="8.3" fill="#ff0000" stroke="#000" stroke-width="1.3"/>
<circle cx="987.90" cy="1191.50" r="8.3" fill="#ff0000" stroke="#000" stroke-width="1.3"/>
<line x1="987.90" y1="1228.70" x2="987.90" y2="1217.10" stroke="#222" stroke-width="1.2"/>
<line x1="984.30" y1="1217.10" x2="991.50" y2="1217.10" stroke="#222" stroke-width="1.2"/>
<polygon points="713.60,1283.50 730.20,1283.50 721.90,1297.50" fill="#00ff00" stroke="#000" stroke-width="1.3" stroke-linejoin="miter"/>
<polygon points="766.80,1276.40 783.40,1276.40 775.10,1290.40" fill="#00ff00" stroke="#000" stroke-width="1.3" stroke-linejoin="miter"/>
<polygon points="820.00,1273.20 836.60,1273.20 828.30,1287.20" fill="#00ff00" stroke="#000" stroke-width="1.3" stroke-linejoin="miter"/>
<polygon points="873.20,1237.10 889.80,1237.10 881.50,1251.10" fill="#00ff00" stroke="#000" stroke-width="1.3" stroke-linejoin="miter"/>
<polygon points="926.40,1227.10 943.00,1227.10 934.70,1241.10" fill="#00ff00" stroke="#000" stroke-width="1.3" stroke-linejoin="miter"/>
<polygon points="979.60,1223.90 996.20,1223.90 987.90,1237.90" fill="#00ff00" stroke="#000" stroke-width="1.3" stroke-linejoin="miter"/>
<path d="M990.32,1252.55 L990.32,1247.83 M990.32,1252.55 L994.81,1251.09 M990.32,1252.55 L985.83,1251.09 M990.32,1252.55 L987.54,1256.37 M990.32,1252.55 L993.09,1256.37 " stroke="#000" stroke-width="2.1" stroke-linecap="round" fill="none"/>
<text transform="translate(695.41,1211.50) scale(0.9914,1)" font-size="30.00" font-weight="bold" fill="#000">(n=5)</text>
<g fill="none" stroke-linecap="butt" stroke-linejoin="miter">
<path transform="translate(741.1,1359.6)" d="M5.5,0.3 L0.8,8.3 M2.5,7.7 H12.5 M0.2,13.7 H13.8 M8.2,3.7 V13.7 Q7.5,21 0.8,26 M9.2,18.3 L13.8,24.3 M17.2,3.7 H27.2 V23 H17.2 Z" stroke="#ababab" stroke-width="2.8"/>
<path transform="translate(774.1,1359.6)" d="M1.5,2 L26,1 M6,7 L8,10.5 M23.5,6.3 L19,10.7 M0.2,14.7 H28.2 M14.2,2.3 V25.7 L8.2,26" stroke="#ababab" stroke-width="2.8"/>
<path transform="translate(845.1,1359.6)" d="M5.5,2.3 H25.8 V8 H5.5 Z M12,2.3 V8 M19,2.3 V8 M12,12.7 H23.5 L8.8,23 M8.5,16 L13.5,18 M1,10.5 L3,12.5 M5.5,9.7 V23 L0.2,26.3 M5.5,23.5 Q9,26.3 14,26.3 H27.5" stroke="#ababab" stroke-width="2.8"/>
<path transform="translate(875.1,1359.6)" d="M0.8,4.5 H10.2 M5,1 L1.5,12 H10.2 M5.8,8 V27 M0.8,19.5 L10.2,18 M14.5,1.5 H25.5 V7.5 H14.5 Z M13.5,10.5 H27 M16.5,10.5 V27 M23.5,10.5 V27 M16.5,15.5 H23.5 M16.5,20.5 H23.5 M13.5,26 L27,24.5" stroke="#ababab" stroke-width="2.8"/>
<path transform="translate(904.1,1359.6)" d="M4,0.5 L5.5,3.5 M0.5,8 H9.3 L1.5,18 M5.5,13 V27 M6.5,15 L9.5,18 M12.5,6 H26.5 V20 H12.5 Z M12.5,13 H26.5 M19.5,0.5 V27" stroke="#ababab" stroke-width="2.8"/>
<path transform="translate(934.6,1359.6)" d="M6.5,0.5 L1.5,9 H7.5 L0.5,17 L9.5,13.5 M0.5,25 L9.5,21.5 M11.5,2.5 H24.5 Q20,9 12,13 M16,7 L27,12.5 M14.5,17 H25 M19.8,17 V25.5 M11,25.5 H27" stroke="#ababab" stroke-width="2.8"/>
<path transform="translate(964.1,1359.6)" d="M9.5,1 L1.5,4 M0.5,10 H11.5 M5.8,3 V27 M5.5,11 L0.5,20 M6.5,12 L11,17 M15,5 L17,8 M15,11 L17,14 M12.5,19 L27.5,16.5 M23,0.5 V27" stroke="#ababab" stroke-width="2.8"/>
<path transform="translate(994.6,1359.6)" d="M7,0.5 L9,4.5 M13.5,0 V4 M20,0.5 L18,4.5 M1.5,10 V5.7 H27 V10 M6.5,10.7 H21.5 L14,15 M14,15 V26.5 L8,27 M0.5,18 H27.5" stroke="#ababab" stroke-width="2.8"/>
<path transform="translate(740.2,1358.7)" d="M5.5,0.3 L0.8,8.3 M2.5,7.7 H12.5 M0.2,13.7 H13.8 M8.2,3.7 V13.7 Q7.5,21 0.8,26 M9.2,18.3 L13.8,24.3 M17.2,3.7 H27.2 V23 H17.2 Z" stroke="#ffffff" stroke-width="1.5"/>
<path transform="translate(773.2,1358.7)" d="M1.5,2 L26,1 M6,7 L8,10.5 M23.5,6.3 L19,10.7 M0.2,14.7 H28.2 M14.2,2.3 V25.7 L8.2,26" stroke="#ffffff" stroke-width="1.5"/>
<path transform="translate(844.2,1358.7)" d="M5.5,2.3 H25.8 V8 H5.5 Z M12,2.3 V8 M19,2.3 V8 M12,12.7 H23.5 L8.8,23 M8.5,16 L13.5,18 M1,10.5 L3,12.5 M5.5,9.7 V23 L0.2,26.3 M5.5,23.5 Q9,26.3 14,26.3 H27.5" stroke="#ffffff" stroke-width="1.5"/>
<path transform="translate(874.2,1358.7)" d="M0.8,4.5 H10.2 M5,1 L1.5,12 H10.2 M5.8,8 V27 M0.8,19.5 L10.2,18 M14.5,1.5 H25.5 V7.5 H14.5 Z M13.5,10.5 H27 M16.5,10.5 V27 M23.5,10.5 V27 M16.5,15.5 H23.5 M16.5,20.5 H23.5 M13.5,26 L27,24.5" stroke="#ffffff" stroke-width="1.5"/>
<path transform="translate(903.2,1358.7)" d="M4,0.5 L5.5,3.5 M0.5,8 H9.3 L1.5,18 M5.5,13 V27 M6.5,15 L9.5,18 M12.5,6 H26.5 V20 H12.5 Z M12.5,13 H26.5 M19.5,0.5 V27" stroke="#ffffff" stroke-width="1.5"/>
<path transform="translate(933.7,1358.7)" d="M6.5,0.5 L1.5,9 H7.5 L0.5,17 L9.5,13.5 M0.5,25 L9.5,21.5 M11.5,2.5 H24.5 Q20,9 12,13 M16,7 L27,12.5 M14.5,17 H25 M19.8,17 V25.5 M11,25.5 H27" stroke="#ffffff" stroke-width="1.5"/>
<path transform="translate(963.2,1358.7)" d="M9.5,1 L1.5,4 M0.5,10 H11.5 M5.8,3 V27 M5.5,11 L0.5,20 M6.5,12 L11,17 M15,5 L17,8 M15,11 L17,14 M12.5,19 L27.5,16.5 M23,0.5 V27" stroke="#ffffff" stroke-width="1.5"/>
<path transform="translate(993.7,1358.7)" d="M7,0.5 L9,4.5 M13.5,0 V4 M20,0.5 L18,4.5 M1.5,10 V5.7 H27 V10 M6.5,10.7 H21.5 L14,15 M14,15 V26.5 L8,27 M0.5,18 H27.5" stroke="#ffffff" stroke-width="1.5"/>
</g>
<text transform="translate(814.8,1381.8) scale(0.94,1)" font-size="29.2" font-weight="normal" fill="#fff" style="stroke:#ababab;stroke-width:2px">@</text>
<text transform="translate(814.3,1381.3) scale(0.94,1)" font-size="29.2" font-weight="normal" fill="#fff" style="stroke:none">@</text>
</svg>
</body></html>
